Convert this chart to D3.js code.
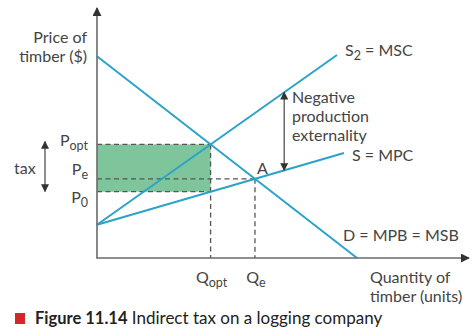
<!DOCTYPE html>
<html><head><meta charset="utf-8">
<script src="https://cdn.jsdelivr.net/npm/d3@7"></script>
<style>
html,body{margin:0;padding:0;background:#fff;}
svg{display:block;}
text{font-family:Lato,"Open Sans",sans-serif;fill:#444;}
</style></head>
<body>
<svg id="c" width="474" height="336"></svg>
<script>
// Curves as [quantity, price] endpoints (abstract units 0-100)
const demandLine = [[0, 97], [100, 0]];
const mpcLine = [[0, 16], [95, 50.5]];
const mscLine = [[0, 16], [92.3, 97.6]];
const curveLabels = ["D = MPB = MSB", "S = MPC", "S₂ = MSC"];
const priceLabels = ["P", "P", "P"];
const priceSubs = ["opt", "e", "0"];
const qtyLabels = ["Q", "Q"];
const qtySubs = ["opt", "e"];
const externalityQ = [72];
const taxRange = [56, 32];

const svg = d3.select("#c");
const x = d3.scaleLinear().domain([0, 100]).range([97, 357]);
const y = d3.scaleLinear().domain([0, 100]).range([258, 50]);
const lineCol = "#2ba3c8", axisCol = "#6a6a6a";

function lineFn(l){ const s=(l[1][1]-l[0][1])/(l[1][0]-l[0][0]); return q=>l[0][1]+s*(q-l[0][0]); }
function inter(a,b){ const fa=lineFn(a), fb=lineFn(b);
  const sa=(a[1][1]-a[0][1])/(a[1][0]-a[0][0]), sb=(b[1][1]-b[0][1])/(b[1][0]-b[0][0]);
  const q=(fb(0)-fa(0))/(sa-sb); return [q, fa(q)]; }
const opt = inter(demandLine, mscLine);
const eq = inter(demandLine, mpcLine);
const p0 = lineFn(mpcLine)(opt[0]);
const prices = [opt[1], eq[1], p0];
const qtys = [opt[0], eq[0]];

const defs = svg.append("defs");
function marker(id,col,sz){
  defs.append("marker").attr("id",id).attr("viewBox","0 0 10 10").attr("refX",9).attr("refY",5)
   .attr("markerWidth",sz).attr("markerHeight",sz).attr("orient","auto-start-reverse").attr("markerUnits","userSpaceOnUse")
   .append("path").attr("d","M0,0 L10,5 L0,10 z").attr("fill",col);
}
marker("ah","#333",8);
marker("ax","#333",9);

// green tax area
svg.append("rect").attr("x",x(0)).attr("y",y(prices[0])).attr("width",x(qtys[0])-x(0))
  .attr("height",y(prices[2])-y(prices[0])).attr("fill","#7fc59c");

// dashed guides
const dash = "5,3.5";
const dg = svg.append("g").attr("stroke","#555").attr("stroke-width",1.3).attr("stroke-dasharray",dash).attr("fill","none");
dg.append("line").attr("x1",x(0)).attr("x2",x(qtys[0])).attr("y1",y(prices[0])).attr("y2",y(prices[0]));
dg.append("line").attr("x1",x(0)).attr("x2",x(qtys[1])).attr("y1",y(prices[1])).attr("y2",y(prices[1]));
dg.append("line").attr("x1",x(0)).attr("x2",x(qtys[0])).attr("y1",y(prices[2])).attr("y2",y(prices[2]));
dg.append("line").attr("x1",x(qtys[0])).attr("x2",x(qtys[0])).attr("y1",y(prices[0])).attr("y2",y(0));
dg.append("line").attr("x1",x(qtys[1])).attr("x2",x(qtys[1])).attr("y1",y(prices[1])).attr("y2",y(0));

// curves
const lg = d3.line().x(d=>x(d[0])).y(d=>y(d[1]));
[demandLine, mpcLine, mscLine].forEach(l=>{
  svg.append("path").attr("d",lg(l)).attr("fill","none").attr("stroke",lineCol).attr("stroke-width",2);
});

// axes
svg.append("line").attr("x1",x(0)).attr("y1",y(0)).attr("x2",x(0)).attr("y2",8)
  .attr("stroke",axisCol).attr("stroke-width",1.6).attr("marker-end","url(#ax)");
svg.append("line").attr("x1",x(0)-0.8).attr("y1",y(0)).attr("x2",469).attr("y2",y(0))
  .attr("stroke",axisCol).attr("stroke-width",1.6).attr("marker-end","url(#ax)");

// externality arrow
const eqx = externalityQ[0];
svg.append("line").attr("x1",x(eqx)).attr("x2",x(eqx))
  .attr("y1",y(lineFn(mscLine)(eqx))).attr("y2",y(lineFn(mpcLine)(eqx)))
  .attr("stroke","#444").attr("stroke-width",1.2).attr("marker-start","url(#ah)").attr("marker-end","url(#ah)");

// tax arrow
svg.append("line").attr("x1",45).attr("x2",45).attr("y1",y(taxRange[0])).attr("y2",y(taxRange[1]))
  .attr("stroke","#444").attr("stroke-width",1.2).attr("marker-start","url(#ah)").attr("marker-end","url(#ah)");

const fs = 16, sfs = 12.5;
function subText(xp, yp, main, sub, anchor){
  const t = svg.append("text").attr("x",xp).attr("y",yp).attr("font-size",fs).attr("text-anchor",anchor||"start");
  t.append("tspan").text(main);
  t.append("tspan").attr("font-size",sfs).attr("dy",4).text(sub);
  return t;
}
// price labels
priceLabels.forEach((p,i)=>{
  const yy = y(prices[i]);
  const off = [2, -4, 11][i];
  subText(88, yy+off, p, priceSubs[i], "end");
});
// quantity labels
qtyLabels.forEach((q,i)=>{
  subText(x(qtys[i]) + 1, 283, q, qtySubs[i], "middle");
});

// axis titles
svg.append("text").attr("x",87).attr("y",43).attr("font-size",fs).attr("text-anchor","end").text("Price of");
svg.append("text").attr("x",87).attr("y",62).attr("font-size",fs).attr("text-anchor","end").text("timber ($)");
svg.append("text").attr("x",370).attr("y",283).attr("font-size",fs).text("Quantity of");
svg.append("text").attr("x",370).attr("y",302).attr("font-size",fs).text("timber (units)");

// curve labels
svg.append("text").attr("x",343).attr("y",241).attr("font-size",fs).text(curveLabels[0]);
svg.append("text").attr("x",352).attr("y",161).attr("font-size",fs).text(curveLabels[1]);
const s2 = svg.append("text").attr("x",345).attr("y",56).attr("font-size",fs);
s2.append("tspan").text("S");
s2.append("tspan").attr("font-size",sfs).attr("dy",4).text("2");
s2.append("tspan").attr("dy",-4).text(" = MSC");

// externality text
["Negative","production","externality"].forEach((t,i)=>{
  svg.append("text").attr("x",292).attr("y",103+i*19).attr("font-size",fs).text(t);
});
svg.append("text").attr("x",257).attr("y",174).attr("font-size",fs).text("A");
svg.append("text").attr("x",14).attr("y",174).attr("font-size",fs).text("tax");

// caption
svg.append("rect").attr("x",15).attr("y",313).attr("width",10).attr("height",11).attr("fill","#d6262b");
const cap = svg.append("text").attr("x",35).attr("y",324).attr("font-size",16.5);
cap.append("tspan").attr("font-weight","bold").attr("fill","#222").text("Figure 11.14");
cap.append("tspan").attr("fill","#222").attr("font-size",17).text(" Indirect tax on a logging company");
</script>
</body></html>
